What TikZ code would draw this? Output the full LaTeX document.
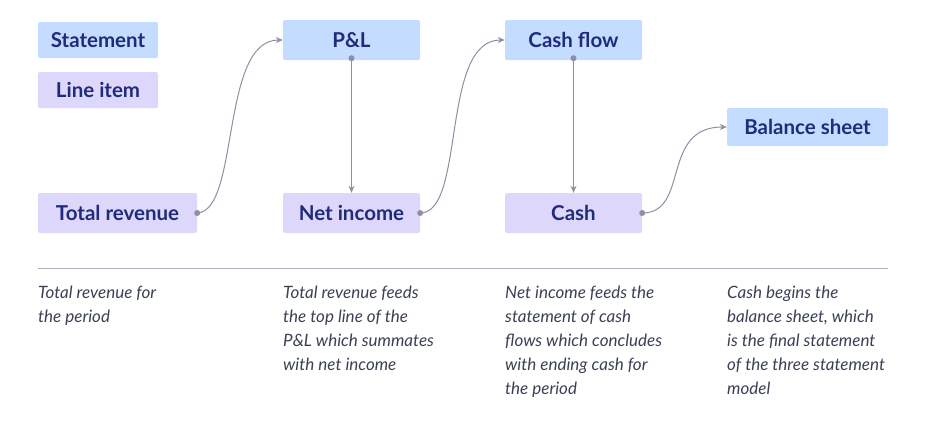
\documentclass[tikz,border=0pt]{standalone}
\usepackage{fontspec}
\setmainfont{Lato}
\usetikzlibrary{arrows.meta}
\definecolor{stm}{HTML}{C4DCFF}
\definecolor{li}{HTML}{DDD7FB}
\definecolor{ink}{HTML}{1F2C7A}
\definecolor{con}{HTML}{8C90A3}
\definecolor{note}{HTML}{3A4155}
\begin{document}
\begin{tikzpicture}[x=1pt,y=-1pt,
 box/.style={rounded corners=2pt,text=ink,font=\fontsize{20.5}{24}\selectfont\bfseries,inner sep=0},
 st/.style={box,fill=stm},
 it/.style={box,fill=li},
 arr/.style={draw=con,line width=1pt,-{Stealth[length=7pt,width=6pt]}},
 dot/.style={circle,fill=con,inner sep=0,minimum size=6pt},
 nt/.style={anchor=north west,align=left,text=note,font=\fontsize{17}{24}\selectfont\itshape,inner sep=0}]
\useasboundingbox (0,0) rectangle (930,423);
\node[st,minimum width=120,minimum height=36] (leg1) at (98,40) {Statement};
\node[it,minimum width=120,minimum height=36] (leg2) at (98,90) {Line item};
\node[st,minimum width=137,minimum height=40] (pl) at (351.5,40) {P\&L};
\node[st,minimum width=137,minimum height=40] (cf) at (573.5,40) {Cash flow};
\node[st,minimum width=161,minimum height=38] (bs) at (807.5,127) {Balance sheet};
\node[it,minimum width=159,minimum height=40] (tr) at (117.5,213) {Total revenue};
\node[it,minimum width=137,minimum height=40] (ni) at (351.5,213) {Net income};
\node[it,minimum width=137,minimum height=40] (ca) at (573.5,213) {Cash};
\node[dot] (d1) at (tr.east) {};
\node[dot] (d2) at (ni.east) {};
\node[dot] (d3) at (ca.east) {};
\node[dot] (d4) at ([yshift=2pt]pl.south) {};
\node[dot] (d5) at ([yshift=2pt]cf.south) {};
\draw[arr] (d1.center) .. controls (240,211) and (220,40) .. (pl.west);
\draw[arr] (d2.center) .. controls (466,213) and (440,40) .. (cf.west);
\draw[arr] (d3.center) .. controls (690,213) and (660,127) .. (bs.west);
\draw[arr] (d4.center) -- (ni.north);
\draw[arr] (d5.center) -- (ca.north);
\coordinate (l1) at (38,268); \coordinate (l2) at (888,268);
\draw[draw=con!70,line width=1pt] (l1) -- (l2);
\node[nt] (t1) at (38,286) {Total revenue for\\the period};
\node[nt] (t2) at (283,286) {Total revenue feeds\\the top line of the\\P\&L which summates\\with net income};
\node[nt] (t3) at (505,286) {Net income feeds the\\statement of cash\\flows which concludes\\with ending cash for\\the period};
\node[nt] (t4) at (727,286) {Cash begins the\\balance sheet, which\\is the final statement\\of the three statement\\model};
\end{tikzpicture}
\end{document}
